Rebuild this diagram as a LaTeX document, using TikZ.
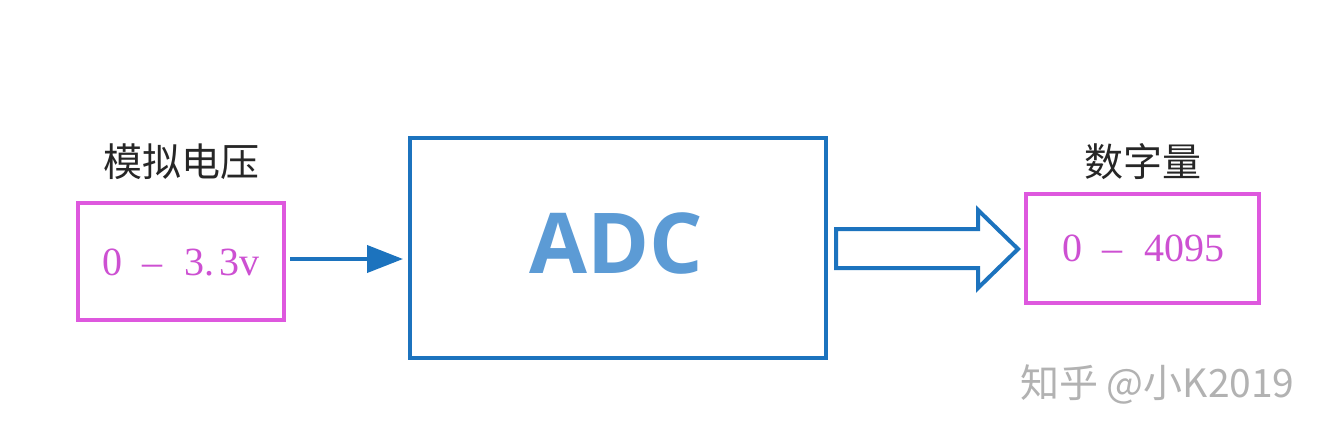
\documentclass[tikz,border=0pt]{standalone}
\usepackage{fontspec}
\setmainfont{Liberation Serif}
\newfontfamily\cjk{Noto Sans CJK SC}
\newfontfamily\adcfont{Open Sans}
\usetikzlibrary{arrows.meta}
\definecolor{mag}{RGB}{222,88,222}
\definecolor{magtext}{RGB}{205,80,210}
\definecolor{bord}{RGB}{28,115,190}
\definecolor{adctext}{RGB}{92,155,213}
\definecolor{wm}{RGB}{178,178,178}
\tikzset{
  magbox/.style={draw=mag, line width=4pt, minimum width=#1, inner sep=0pt},
  cjklabel/.style={font=\cjk\fontsize{39}{39}\selectfont, text=black!85, inner sep=0pt},
  valtext/.style={font=\fontsize{40}{40}\selectfont, text=magtext},
  blueline/.style={draw=bord, line width=4pt},
}
\begin{document}
\begin{tikzpicture}[x=1pt,y=-1pt]
\useasboundingbox (0,0) rectangle (1332,440);
\fill[white] (0,0) rectangle (1332,440);
% boxes
\node[magbox=206pt, minimum height=117pt] (lbox) at (181,261.5) {};
\node[valtext] (lval) at (181,262) {0\hspace{0.5em}–\hspace{0.55em}3.\hspace{0.15em}3v};
\node[cjklabel] (llab) at (181,162) {模拟电压};
\node[blueline, minimum width=416pt, minimum height=220pt, inner sep=0pt] (adc) at (618,248) {};
\node[font=\adcfont\bfseries\fontsize{84}{84}\selectfont, text=adctext] (adct) at (616,243) {ADC};
\node[magbox=233pt, minimum height=109pt] (rbox) at (1142,248) {};
\node[valtext] (rval) at (1143,248) {0\hspace{0.5em}–\hspace{0.55em}4095};
\node[cjklabel] (rlab) at (1143,162) {数字量};
% thin arrow
\coordinate (astart) at ([xshift=4pt,yshift=2.5pt]lbox.east);
\coordinate (aend) at ([xshift=-5pt]adc.west |- astart);
\draw[bord, line width=4pt, -{Triangle[length=36pt,width=27pt]}] (astart) -- (aend);
% block arrow
\draw[blueline, line join=miter, fill=white]
  (836,229) -- (978,229) -- (978,210) -- (1018,249) -- (978,288) -- (978,268) -- (836,268) -- cycle;
% watermark
\node[font=\cjk\fontsize{39}{39}\selectfont, text=wm, anchor=west, inner sep=0pt] (wmk) at (1020,384) {知乎 @小K2019};
\end{tikzpicture}
\end{document}
